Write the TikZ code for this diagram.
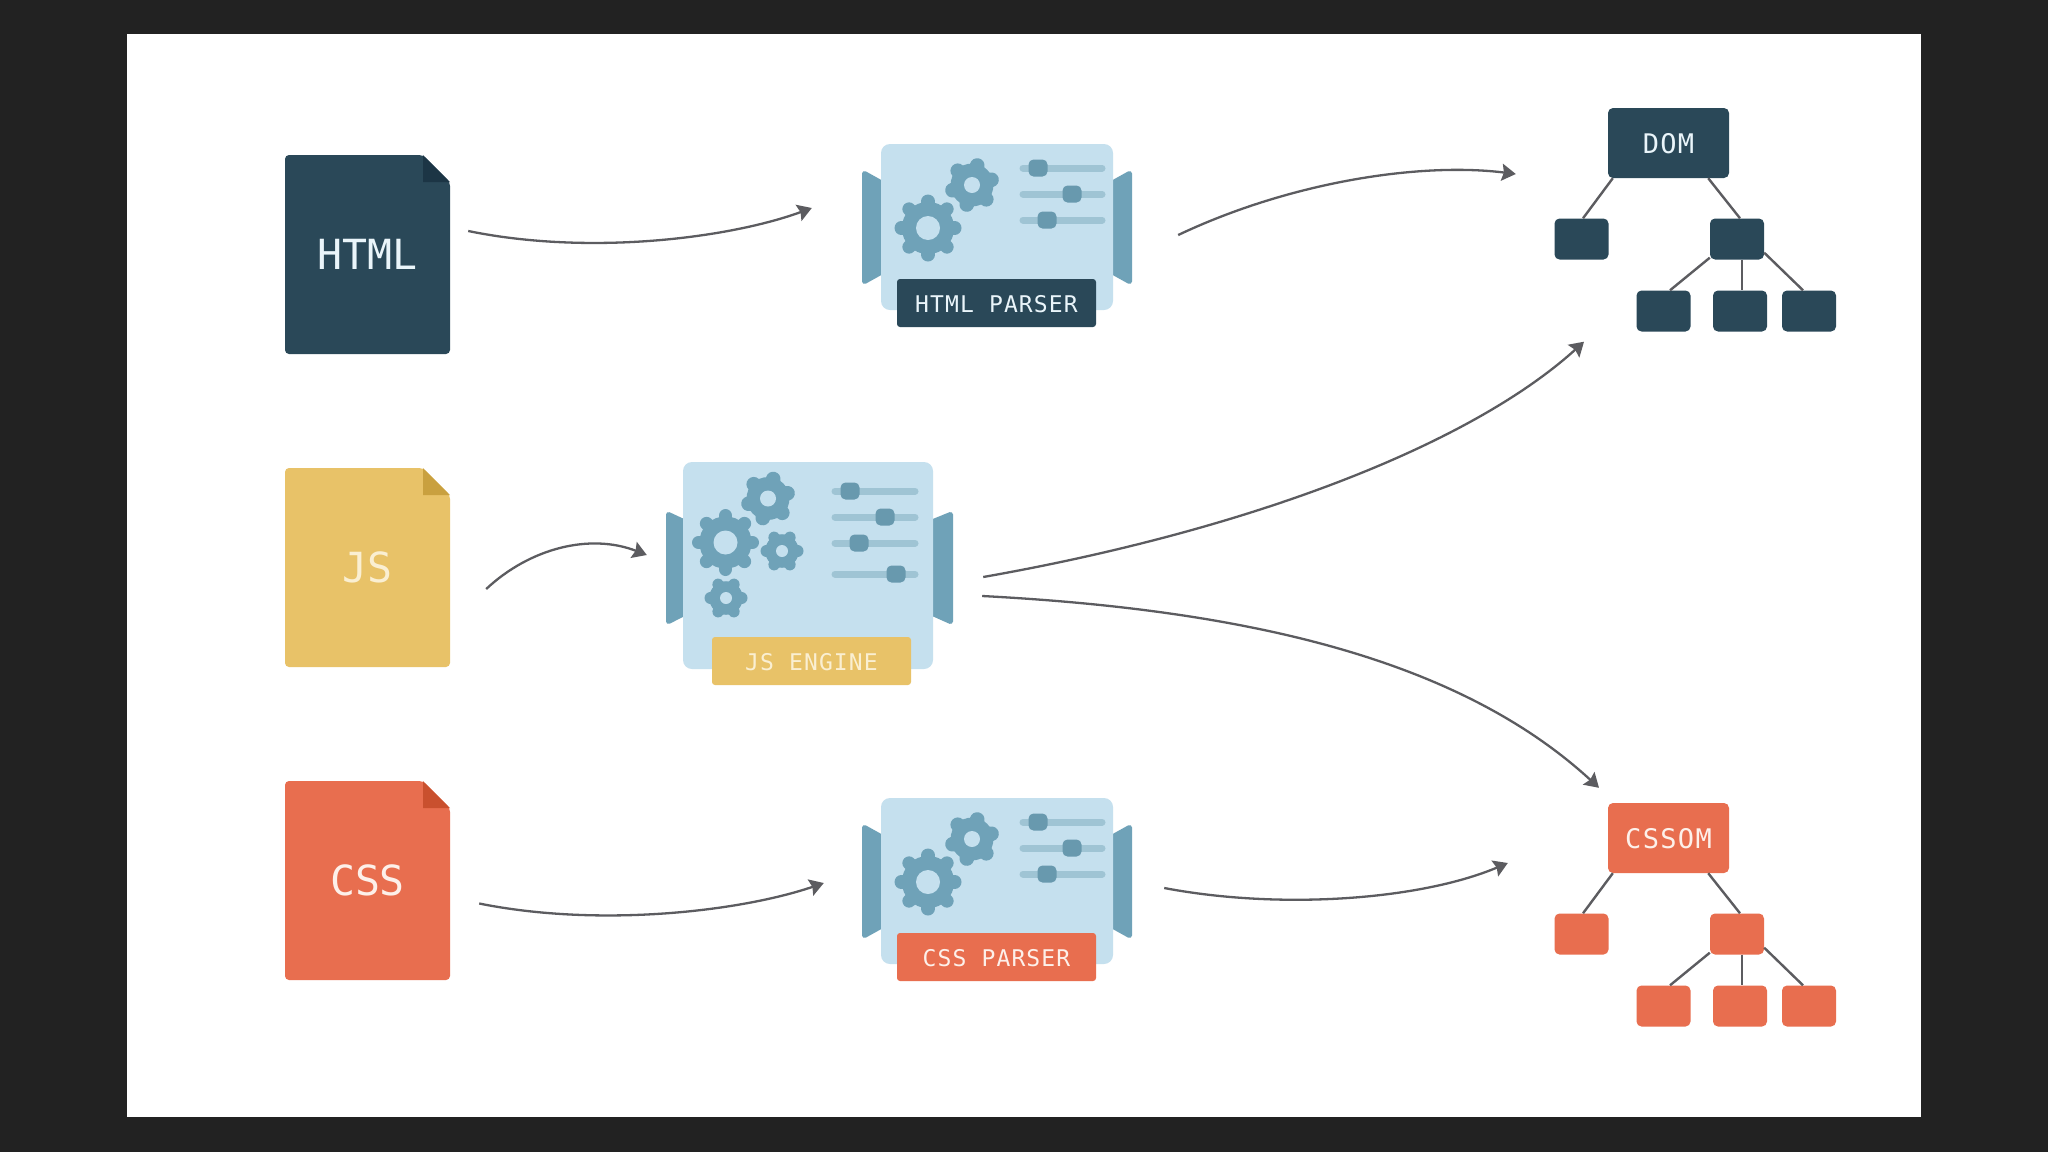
\documentclass[tikz,border=0pt]{standalone}
\usepackage{fontspec}
\setmainfont{DejaVu Sans Mono}
\usetikzlibrary{arrows.meta}
\definecolor{navy}{HTML}{2A4858}
\definecolor{navyfold}{HTML}{1C3545}
\definecolor{amber}{HTML}{E8C268}
\definecolor{amberfold}{HTML}{C9A03F}
\definecolor{coral}{HTML}{E86E4F}
\definecolor{coralfold}{HTML}{C9502E}
\definecolor{panelblue}{HTML}{C5E0EE}
\definecolor{gearblue}{HTML}{6FA2B8}
\definecolor{trackblue}{HTML}{9FC4D4}
\definecolor{linegrey}{HTML}{5C5C60}
\definecolor{frame}{HTML}{222222}
\definecolor{navytext}{HTML}{EAF5FA}
\definecolor{ambertext}{HTML}{FAEFD2}
\definecolor{coraltext}{HTML}{FDF0EA}
\tikzset{
  x=1pt,y=-1pt,
  flow/.style={draw=linegrey,line width=2.3pt,-{Stealth[length=14pt,width=17pt,inset=2pt]}},
  treeline/.style={draw=linegrey,line width=2.4pt},
  filetext/.style={inner sep=0pt,minimum width=165pt,minimum height=199pt,font=\fontsize{41.5}{48}\selectfont},
  panelbox/.style={fill=panelblue,rounded corners=9pt,inner sep=0pt},
  tag/.style={rounded corners=3pt,inner sep=0pt,minimum width=199pt,minimum height=48pt,text height=18.5pt,text depth=0pt,font=\fontsize{23}{28}\selectfont\addfontfeature{LetterSpace=5}},
  rootbox/.style={rounded corners=5pt,inner sep=0pt,minimum width=121pt,minimum height=70pt,text height=21pt,text depth=0pt,font=\fontsize{27}{32}\selectfont\addfontfeature{LetterSpace=5}},
  leafbox/.style={rounded corners=5pt,inner sep=0pt,minimum width=54pt,minimum height=41pt},
  wing/.style={fill=gearblue,draw=gearblue,line width=5pt,line join=round},
  knob/.style={fill=gearblue!90!navy,rounded corners=5pt},
  trackbar/.style={draw=trackblue,line width=7pt,line cap=round},
}
% x-left, y-top, bg, fold, text colour, text, node name
\newcommand{\docsheet}[7]{%
  \fill[#3,rounded corners=4pt] (#1,#2) -- (#1+138,#2) -- (#1+165,#2+27) -- (#1+165,#2+199) -- (#1,#2+199) -- cycle;
  \fill[#4] (#1+138,#2) -- (#1+165,#2+27) -- (#1+138,#2+27) -- cycle;
  \node[filetext,text=#5] (#7) at (#1+82.5,#2+99.5) {#6};
}
% x, y, radius, hole, rotation, teeth
\newcommand{\gearwheel}[6]{%
  \fill[gearblue] (#1,#2) circle[radius=#3*0.78];
  \foreach \k in {1,...,#6}
    \draw[gearblue,line width={(#3*3.2/#6)*1pt},line cap=round] (#1,#2) -- ++({#5+\k*360/#6}:{#3-#3*1.6/#6});
  \fill[panelblue] (#1,#2) circle[radius=#4];
}
% x0, x1, y, knob x
\newcommand{\slidertrack}[4]{%
  \draw[trackbar] (#1+3,#3) -- (#2-3,#3);
  \fill[knob] (#4-9.5,#3-8.5) rectangle (#4+9.5,#3+8.5);
}
% left x, panel left, panel right, right x, outer top, inner top, inner bottom, outer bottom
\newcommand{\wingpair}[8]{%
  \filldraw[wing] (#2+6,#6+6) -- (#1+2.5,#5+3.5) -- (#1+2.5,#8-3.5) -- (#2+6,#7-6) -- cycle;
  \filldraw[wing] (#3-6,#6+6) -- (#4-2.5,#5+3.5) -- (#4-2.5,#8-3.5) -- (#3-6,#7-6) -- cycle;
}
% y offset, node name, tag name, tag colour, text colour, tag text
\newcommand{\parserunit}[6]{%
  \wingpair{862}{881}{1113}{1132}{#1+170}{#1+180}{#1+275}{#1+285}
  \node[panelbox,minimum width=232pt,minimum height=166pt] (#2) at (997,#1+227) {};
  \gearwheel{928}{#1+228}{33.5}{12}{0}{8}
  \gearwheel{972}{#1+185}{27.5}{8}{-15}{6}
  \slidertrack{1020}{1105}{#1+168}{1038}
  \slidertrack{1020}{1105}{#1+194}{1072}
  \slidertrack{1020}{1105}{#1+220}{1047}
  \node[tag,fill=#4,text=#5] (#3) at (996.5,#1+303) {#6};
}
% prefix, y offset, colour, text colour, label
\newcommand{\treeunit}[5]{%
  \node[rootbox,fill=#3,text=#4] (#1root) at (1668.5,#2+143) {#5};
  \node[leafbox,fill=#3] (#1a) at (1581.5,#2+239) {};
  \node[leafbox,fill=#3] (#1b) at (1737,#2+239) {};
  \node[leafbox,fill=#3] (#1c) at (1663.5,#2+311) {};
  \node[leafbox,fill=#3] (#1d) at (1740,#2+311) {};
  \node[leafbox,fill=#3] (#1e) at (1809,#2+311) {};
  \draw[treeline] ([xshift=5pt]#1root.south west) -- ([xshift=1.5pt]#1a.north);
  \draw[treeline] ([xshift=-21pt]#1root.south east) -- ([xshift=3pt]#1b.north);
  \draw[treeline] ([yshift=2pt]#1b.south west) -- ([xshift=6.5pt]#1c.north);
  \draw[treeline] ([xshift=5pt]#1b.south) -- ([xshift=2pt]#1d.north);
  \draw[treeline] ([yshift=7pt]#1b.south east) -- ([xshift=-6pt]#1e.north);
}
\begin{document}
\begin{tikzpicture}
\useasboundingbox (0,0) rectangle (2048,1152);
\fill[frame] (0,0) rectangle (2048,1152);
\fill[white] (127,34) rectangle (1921,1117);

\docsheet{285}{155}{navy}{navyfold}{navytext}{HTML}{htmlfile}
\docsheet{285}{468}{amber}{amberfold}{ambertext}{JS}{jsfile}
\docsheet{285}{781}{coral}{coralfold}{coraltext}{CSS}{cssfile}

\parserunit{0}{htmlparser}{htmltag}{navy}{navytext}{HTML PARSER}
\parserunit{654}{cssparser}{csstag}{coral}{coraltext}{CSS PARSER}

% JS engine
\wingpair{666}{683}{933}{953}{511}{518}{617}{625}
\node[panelbox,minimum width=250pt,minimum height=207pt] (jsengine) at (808,565.5) {};
\gearwheel{725.5}{542.5}{33.5}{12}{0}{8}
\gearwheel{768}{498.5}{27.5}{8}{-15}{6}
\gearwheel{782}{551}{21.5}{6}{0}{6}
\gearwheel{726}{598}{21.5}{6}{0}{6}
\slidertrack{832}{918}{491}{850}
\slidertrack{832}{918}{517}{885}
\slidertrack{832}{918}{543}{859}
\slidertrack{832}{918}{574}{896}
\node[tag,fill=amber,text=ambertext] (jstag) at (811.5,661) {JS ENGINE};

\treeunit{dom}{0}{navy}{navytext}{DOM}
\treeunit{cssom}{695}{coral}{coraltext}{CSSOM}

\draw[flow] ([shift={(18,-23.5)}]htmlfile.east) .. controls (590,256) and (730,238) .. ([shift={(-69,-19)}]htmlparser.west);
\draw[flow] ([shift={(65,8)}]htmlparser.east) .. controls (1290,182) and (1420,162) .. ([shift={(-92,31)}]domroot.west);
\draw[flow] ([shift={(36,21.5)}]jsfile.east) .. controls (530,548) and (590,533) .. ([shift={(-36,-10.5)}]jsengine.west);
\draw[flow] ([shift={(50,11.5)}]jsengine.east) .. controls (1250,530) and (1470,445) .. ([shift={(2.5,82)}]doma.south);
\draw[flow] ([shift={(49,30.5)}]jsengine.east) .. controls (1250,610) and (1460,660) .. ([shift={(-69.5,-15)}]cssomroot.north);
\draw[flow] ([shift={(29,23)}]cssfile.east) .. controls (601,928) and (742,911) .. ([shift={(-57,2)}]cssparser.west);
\draw[flow] ([shift={(51,7)}]cssparser.east) .. controls (1280,910) and (1420,900) .. ([shift={(-100,25)}]cssomroot.west);
\end{tikzpicture}
\end{document}
